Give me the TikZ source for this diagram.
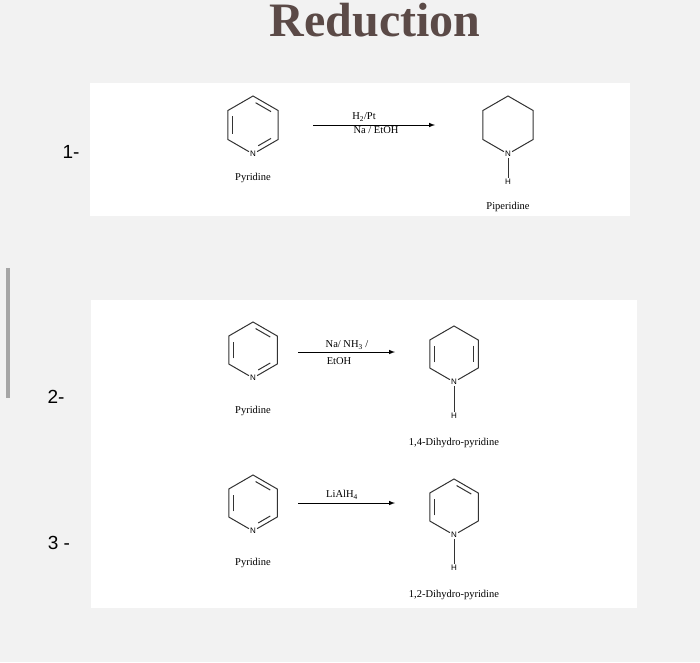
\documentclass[tikz,border=0pt]{standalone}
\usepackage{fontspec}
\setmainfont{Liberation Serif}
\newfontfamily\lsans{Liberation Sans}
\usetikzlibrary{calc}
\definecolor{bg}{HTML}{F2F2F2}
\definecolor{titlec}{HTML}{5B4A47}
\tikzset{
  atom/.style={font=\lsans\fontsize{8}{8}\selectfont,inner sep=1pt},
  bond/.style={line width=1pt,black!80},
  lbl/.style={font=\fontsize{10.5}{11}\selectfont},
  num/.style={font=\lsans\fontsize{19}{20}\selectfont},
  panel/.style={fill=white,draw=none},
  rx/.style={-latex,line width=1pt}
}
\newcommand\myring[4]{%
  \coordinate (#4c) at (#1,#2);
  \foreach \i/\a in {1/270,2/330,3/30,4/90,5/150,6/210}
    {\coordinate (#4\i) at ($(#1,#2)+(\a:#3)$);}
  \node[atom] (#4N) at (#44) {N};
  \draw[bond] (#4N) -- (#45) -- (#46) -- (#41) -- (#42) -- (#43) -- (#4N);
}
\newcommand\dbl[3]{%
  \draw[bond,shorten <=3pt,shorten >=3pt] ($(#1)!0.18!(#3c)$) -- ($(#2)!0.18!(#3c)$);}
\newcommand\dbln[3]{%
  \draw[bond,shorten <=3pt,shorten >=6pt] ($(#1)!0.18!(#3c)$) -- ($(#2)!0.18!(#3c)$);}
\begin{document}
\begin{tikzpicture}[x=1pt,y=-1pt]
\fill[bg] (0,0) rectangle (700,662);
\useasboundingbox (0,0) rectangle (700,662);
\fill[panel] (90,83) rectangle (630,216);
\fill[panel] (91,300) rectangle (637,608);
\fill[gray!70] (6,268) rectangle (10,398);
\node[font=\bfseries\fontsize{48}{48}\selectfont,text=titlec] (title) at (375,20) {Reduction};
\node[num] (n1) at (71,152) {1-};
\node[num] (n2) at (56,397) {2-};
\node[num] (n3) at (59,543) {3 -};
% reaction 1
\myring{253}{125}{29}{a}
\dbl{a1}{a2}{a}\dbl{a5}{a6}{a}\dbln{a3}{a4}{a}
\node[lbl] (pa) at (253,178) {Pyridine};
\myring{508}{125}{29}{b}
\node[atom] (bH) at (508,182) {H};
\draw[bond] (bN) -- (bH);
\node[lbl] (pb) at (508,207) {Piperidine};
\coordinate (r1s) at (313,125); \coordinate (r1e) at (435,125);
\draw[rx] (r1s) -- (r1e);
\node[lbl,inner sep=0pt] (r1t) at (364,117) {H\textsubscript{2}/Pt};
\node[lbl,inner sep=0pt] (r1b) at (376,130) {Na / EtOH};
% reaction 2
\myring{253}{350}{28}{c}
\dbl{c1}{c2}{c}\dbl{c5}{c6}{c}\dbln{c3}{c4}{c}
\node[lbl] (pc) at (253,411) {Pyridine};
\myring{454}{354}{28}{d}
\dbl{d5}{d6}{d}\dbl{d2}{d3}{d}
\node[atom] (dH) at (454,416) {H};
\draw[bond] (dN) -- (dH);
\node[lbl] (pd) at (454,443) {1,4-Dihydro-pyridine};
\coordinate (r2s) at (298,352); \coordinate (r2e) at (395,352);
\draw[rx] (r2s) -- (r2e);
\node[lbl,inner sep=0pt] (r2t) at (347,345) {Na/ NH\textsubscript{3} /};
\node[lbl,inner sep=0pt] (r2b) at (339,361) {EtOH};
% reaction 3
\myring{253}{503}{28}{e}
\dbl{e1}{e2}{e}\dbl{e5}{e6}{e}\dbln{e3}{e4}{e}
\node[lbl] (pe) at (253,563) {Pyridine};
\myring{454}{507}{28}{f}
\dbl{f5}{f6}{f}\dbl{f1}{f2}{f}
\node[atom] (fH) at (454,568) {H};
\draw[bond] (fN) -- (fH);
\node[lbl] (pf) at (454,595) {1,2-Dihydro-pyridine};
\coordinate (r3s) at (298,503); \coordinate (r3e) at (395,503);
\draw[rx] (r3s) -- (r3e);
\node[lbl,inner sep=0pt] (r3t) at (342,495) {LiAlH\textsubscript{4}};
\end{tikzpicture}
\end{document}
